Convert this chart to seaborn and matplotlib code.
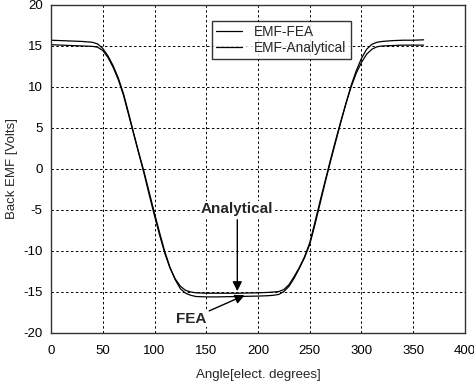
import pandas as pd
import matplotlib
matplotlib.use('Agg')
import matplotlib.pyplot as plt
import seaborn as sns

# Ángulos (grados eléctricos)
angulos = [0, 10, 20, 30, 40, 45, 50, 55, 60, 65, 70, 75, 80, 85, 90, 95, 100,
           105, 110, 115, 120, 125, 130, 135, 140, 150, 160, 180, 200, 210, 215,
           220, 225, 230, 235, 240, 245, 250, 255, 260, 265, 270, 275, 280, 285,
           290, 295, 300, 305, 310, 315, 320, 330, 340, 350, 360]

emf_fea = [15.7, 15.65, 15.6, 15.55, 15.45, 15.25, 14.7, 13.8, 12.6, 11.1, 9.2,
           6.8, 4.3, 1.9, -0.4, -2.9, -5.4, -7.8, -10.1, -12.0, -13.5, -14.6,
           -15.15, -15.4, -15.55, -15.6, -15.6, -15.55, -15.5, -15.45, -15.4,
           -15.3, -14.95, -14.3, -13.3, -12.1, -10.8, -9.2, -6.8, -4.2, -1.6,
           0.9, 3.3, 5.7, 8.0, 10.2, 12.0, 13.5, 14.6, 15.2, 15.45, 15.55, 15.65,
           15.7, 15.7, 15.75]

emf_analitico = [15.15, 15.1, 15.05, 15.0, 14.95, 14.85, 14.45, 13.6, 12.4,
                 10.9, 9.0, 6.6, 4.2, 1.8, -0.6, -3.2, -5.7, -8.1, -10.3, -12.1,
                 -13.4, -14.3, -14.8, -15.0, -15.1, -15.15, -15.15, -15.15,
                 -15.1, -15.05, -15.0, -14.95, -14.7, -14.1, -13.1, -12.0,
                 -10.7, -9.0, -6.5, -3.9, -1.4, 1.1, 3.5, 5.8, 8.0, 10.0, 11.7,
                 13.0, 14.0, 14.6, 14.9, 15.0, 15.05, 15.1, 15.1, 15.1]

df = pd.DataFrame({
    'angulo': angulos * 2,
    'emf': emf_fea + emf_analitico,
    'serie': ['EMF-FEA'] * len(angulos) + ['EMF-Analytical'] * len(angulos),
})

sns.set_style('white')
plt.rcParams['font.family'] = ['Liberation Sans', 'DejaVu Sans']
plt.rcParams['axes.unicode_minus'] = False

fig = plt.figure(figsize=(4.74, 3.81), dpi=100)
ax = fig.add_axes([0.1076, 0.126, 0.8734, 0.861])

sns.lineplot(data=df, x='angulo', y='emf', hue='serie',
             palette={'EMF-FEA': 'black', 'EMF-Analytical': 'black'},
             linewidth=0.9, ax=ax)

ax.set_xlim(0, 400)
ax.set_ylim(-20, 20)
ax.set_xticks(range(0, 401, 50))
ax.set_yticks(range(-20, 21, 5))
ax.grid(True, color='black', linestyle=(0, (2.5, 2.5)), linewidth=0.7)
ax.tick_params(direction='in', length=4, labelsize=9.5, colors='black')
ax.tick_params(axis='x', pad=9)
ax.tick_params(axis='y', pad=6)
for s in ax.spines.values():
    s.set_color('#333333')
    s.set_linewidth(1.0)

ax.set_xlabel('Angle[elect. degrees]', fontsize=9.5, labelpad=8)
ax.set_ylabel('Back EMF [Volts]', fontsize=9.5, labelpad=4)

leg = ax.legend(loc='upper left', bbox_to_anchor=(0.389, 0.951), fontsize=9.8,
                frameon=True, fancybox=False, edgecolor='black',
                handlelength=1.9, borderpad=0.3, labelspacing=0.15,
                handletextpad=0.9, borderaxespad=0)
leg.get_frame().set_linewidth(1.0)
leg.set_title(None)

caja = dict(boxstyle='square,pad=0.05', fc='white', ec='none')
ax.annotate('Analytical', xy=(180, -14.9), xytext=(180, -4.9),
            ha='center', va='center', fontsize=11, fontweight='bold', bbox=caja,
            arrowprops=dict(arrowstyle='-|>', color='black', lw=1.0,
                            mutation_scale=14, shrinkA=2, shrinkB=0))
ax.annotate('FEA', xy=(187, -15.4), xytext=(135, -18.3),
            ha='center', va='center', fontsize=11, fontweight='bold', bbox=caja,
            arrowprops=dict(arrowstyle='-|>', color='black', lw=1.0,
                            mutation_scale=14, shrinkA=2, shrinkB=0))

fig.savefig('out.png', dpi=100)
